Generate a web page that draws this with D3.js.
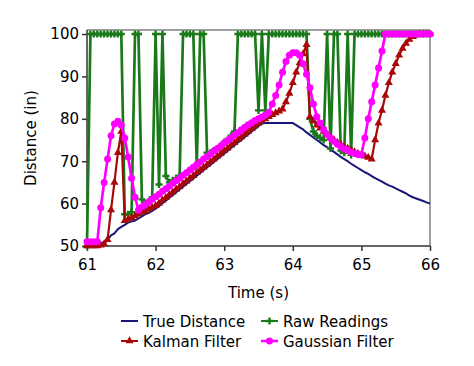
<!DOCTYPE html>
<html>
<head>
<meta charset="utf-8">
<script src="https://cdn.jsdelivr.net/npm/d3@7"></script>
<style>
  html, body { margin: 0; padding: 0; background: #fff; }
  svg { display: block; }
  text { font-family: "DejaVu Sans", Verdana, sans-serif; fill: #000; }
</style>
</head>
<body>
<svg id="chart" width="474" height="366"></svg>
<script>
const times = [61.00,61.05,61.10,61.15,61.20,61.25,61.30,61.35,61.40,61.45,
61.50,61.55,61.60,61.65,61.70,61.75,61.80,61.85,61.90,61.95,
62.00,62.05,62.10,62.15,62.20,62.25,62.30,62.35,62.40,62.45,
62.50,62.55,62.60,62.65,62.70,62.75,62.80,62.85,62.90,62.95,
63.00,63.05,63.10,63.15,63.20,63.25,63.30,63.35,63.40,63.45,
63.50,63.55,63.60,63.65,63.70,63.75,63.80,63.85,63.90,63.95,
64.00,64.05,64.10,64.15,64.20,64.25,64.30,64.35,64.40,64.45,
64.50,64.55,64.60,64.65,64.70,64.75,64.80,64.85,64.90,64.95,
65.00,65.05,65.10,65.15,65.20,65.25,65.30,65.35,65.40,65.45,
65.50,65.55,65.60,65.65,65.70,65.75,65.80,65.85,65.90,65.95,
66.00];

const trueDistance = [50,50,50,50.3,50.5,51,51.5,52.5,53,54,
54.5,55,55.5,55.8,56,56.5,57,57.5,57.8,58.3,
58.8,59.4,60.1,60.7,61.4,62,62.7,63.3,64,64.6,
65.3,65.9,66.6,67.2,67.9,68.5,69.2,69.8,70.5,71.1,
71.8,72.4,73.1,73.7,74.4,75,75.7,76.3,77,77.6,
78.3,78.9,79,79,79,79,79,79,79,79,
79,78.5,78,77.5,76.8,76.2,75.6,75,74.4,73.8,
73.3,72.7,72.2,71.6,71,70.5,70,69.4,68.9,68.4,
67.9,67.4,67,66.5,66,65.6,65.2,64.7,64.3,64,
63.6,63.2,62.8,62.4,61.9,61.5,61.2,60.9,60.6,60.3,
60];

const rawReadings = [50,100,100,100,100,100,100,100,100,100,
100,57.5,57.5,58,100,100,61,60,60.5,61.5,
100,64.5,100,66.5,65,65.5,66,66.5,100,100,
100,100,69,100,100,72,72,72.5,73,73.5,
74.5,75,76,77,100,100,100,100,100,100,
82,100,82,100,100,100,100,100,100,100,
100,100,100,100,100,80,77,76,75.5,75,
100,73,100,100,72.5,72,100,71.5,100,100,
100,100,100,100,100,100,100,100,100,100,
100,100,100,100,100,100,100,100,100,100,
100];

const kalmanFilter = [50,50,50,50,50.2,50.5,51.5,58.5,65,72,
77,56,56.3,56.7,57.1,57.5,57.9,58.3,58.7,59.1,
59.5,60.1,60.8,61.4,62.1,62.7,63.4,64,64.7,65.3,
66,66.6,67.3,67.9,68.6,69.2,69.9,70.5,71.2,71.8,
72.5,73.1,73.8,74.4,75.1,75.7,76.4,77,77.7,78.3,
79,79.6,80,80.5,81,81.4,81.8,82.3,84,86,
88.5,91,93.2,95.3,97.5,80.5,79.5,78.5,77.8,77,
76.3,75.6,75,74.4,73.9,73.4,73,72.6,72.2,71.8,
71.5,71.2,70.9,70.5,75,79,82,85.5,88.5,91,
93,95,96.6,97.8,98.7,99.4,99.8,100,100,100,
100];

const gaussianFilter = [51,51,51,51,59,65,70.5,76,78.8,79.4,
78.5,75.5,71,66,61.5,58.5,59.2,59.8,60.4,61,
61.6,62.2,62.9,63.5,64.1,64.8,65.4,66,66.7,67.3,
67.9,68.6,69.2,69.8,70.5,71.1,71.7,72.4,73,73.6,
74.3,74.9,75.5,76.2,76.8,77.4,78,78.6,79.1,79.6,
80,80.4,80.9,81.5,83.5,85.5,88,91,93.5,95,
95.6,95.6,95,93,90.5,87.3,83.5,80.5,79,77.5,
76.3,75.5,74.7,74,73.4,72.9,72.5,72.1,71.8,71.6,
71.5,75.5,80,84,88,92,96,100,100,100,
100,100,100,100,100,100,100,100,100,100,
100];

const xTicks = [61, 62, 63, 64, 65, 66];
const yTicks = [50, 60, 70, 80, 90, 100];
const seriesNames = ["True Distance", "Raw Readings", "Kalman Filter", "Gaussian Filter"];

(function () {
const svg = d3.select("#chart");
const pL = 87, pR = 430, pT = 30, pB = 246;

const x = d3.scaleLinear().domain([61, 66]).range([pL, pR]);
const y = d3.scaleLinear().domain([50, 100.95]).range([pB, pT]);

svg.append("line").attr("x1", pL).attr("x2", pR).attr("y1", pT).attr("y2", pT)
  .attr("stroke", "#808080").attr("stroke-width", 1.5);
svg.append("line").attr("x1", pR).attr("x2", pR).attr("y1", pT).attr("y2", pB)
  .attr("stroke", "#808080").attr("stroke-width", 1.5);

const xAxis = d3.axisBottom(x).tickValues(xTicks).tickFormat(d3.format("d")).tickSize(5).tickPadding(4);
const yAxis = d3.axisLeft(y).tickValues(yTicks).tickFormat(d3.format("d")).tickSize(5).tickPadding(3);

const gx = svg.append("g").attr("transform", `translate(0,${pB})`).call(xAxis);
const gy = svg.append("g").attr("transform", `translate(${pL},0)`).call(yAxis);
[gx, gy].forEach(g => {
  g.select(".domain").remove();
  g.selectAll(".tick line").attr("stroke", "#333").attr("stroke-width", 1.5);
  g.selectAll(".tick text").attr("font-size", 15).attr("font-family", "DejaVu Sans, Verdana, sans-serif").attr("fill", "#000");
});
gx.selectAll(".tick text").attr("dy", "0.71em").attr("y", 13);
svg.append("line").attr("x1", pL).attr("x2", pL).attr("y1", pT).attr("y2", pB)
  .attr("stroke", "#333").attr("stroke-width", 1.5);
svg.append("line").attr("x1", pL).attr("x2", pR).attr("y1", pB).attr("y2", pB)
  .attr("stroke", "#333").attr("stroke-width", 1.5);

svg.append("text").attr("x", (pL + pR) / 2).attr("y", 298)
  .attr("text-anchor", "middle").attr("font-size", 15).text("Time (s)");
svg.append("text").attr("transform", `translate(36,138) rotate(-90)`)
  .attr("text-anchor", "middle").attr("font-size", 15).text("Distance (in)");

const colors = { true: "#16167a", raw: "#1a7a1a", kalman: "#a80808", gauss: "#ff00ff" };

const plot = svg.append("g");
const lineGen = vals => d3.line().x((d, i) => x(times[i])).y(d => y(d))(vals);

plot.append("path").attr("d", lineGen(trueDistance))
  .attr("fill", "none").attr("stroke", colors.true).attr("stroke-width", 2).attr("stroke-linejoin", "round");

plot.append("path").attr("d", lineGen(rawReadings))
  .attr("fill", "none").attr("stroke", colors.raw).attr("stroke-width", 2.7).attr("stroke-linejoin", "round");
const crossSym = d3.symbol().type(d3.symbolCross).size(28);
plot.append("g").selectAll("path").data(rawReadings).join("path")
  .attr("d", crossSym).attr("transform", (d, i) => `translate(${x(times[i])},${y(d)})`)
  .attr("fill", colors.raw);

plot.append("path").attr("d", lineGen(kalmanFilter))
  .attr("fill", "none").attr("stroke", colors.kalman).attr("stroke-width", 2.2).attr("stroke-linejoin", "round");
const triSym = d3.symbol().type(d3.symbolTriangle).size(28);
plot.append("g").selectAll("path").data(kalmanFilter).join("path")
  .attr("d", triSym).attr("transform", (d, i) => `translate(${x(times[i])},${y(d)})`)
  .attr("fill", colors.kalman);

plot.append("path").attr("d", lineGen(gaussianFilter))
  .attr("fill", "none").attr("stroke", colors.gauss).attr("stroke-width", 2.7).attr("stroke-linejoin", "round");
plot.append("g").selectAll("circle").data(gaussianFilter).join("circle")
  .attr("cx", (d, i) => x(times[i])).attr("cy", d => y(d)).attr("r", 3.5)
  .attr("fill", colors.gauss);

const legendItems = [
  { name: seriesNames[0], color: colors.true, sym: null, lx: 121, ly: 321 },
  { name: seriesNames[1], color: colors.raw, sym: "cross", lx: 261, ly: 321 },
  { name: seriesNames[2], color: colors.kalman, sym: "tri", lx: 121, ly: 341 },
  { name: seriesNames[3], color: colors.gauss, sym: "circle", lx: 261, ly: 341 }
];
const lg = svg.append("g");
legendItems.forEach(it => {
  const g = lg.append("g");
  g.append("line").attr("x1", it.lx).attr("x2", it.lx + 17).attr("y1", it.ly).attr("y2", it.ly)
    .attr("stroke", it.color).attr("stroke-width", it.sym === "circle" ? 2.5 : 2);
  const cx = it.lx + 8.5;
  if (it.sym === "cross") g.append("path").attr("d", crossSym).attr("transform", `translate(${cx},${it.ly})`).attr("fill", it.color);
  if (it.sym === "tri") g.append("path").attr("d", triSym).attr("transform", `translate(${cx},${it.ly})`).attr("fill", it.color);
  if (it.sym === "circle") g.append("circle").attr("cx", cx).attr("cy", it.ly).attr("r", 3.5).attr("fill", it.color);
  g.append("text").attr("x", it.lx + 22).attr("y", it.ly + 5.5).attr("font-size", 15).text(it.name);
});
})();
</script>
</body>
</html>
